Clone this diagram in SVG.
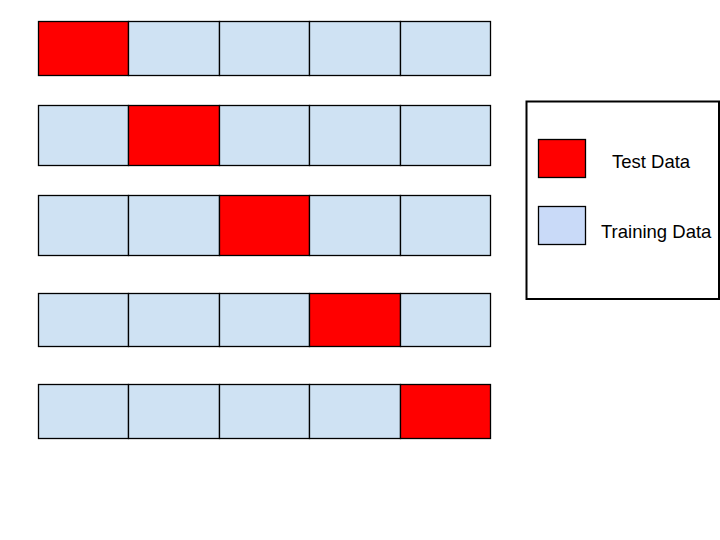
<svg xmlns="http://www.w3.org/2000/svg" width="720" height="540" viewBox="0 0 720 540">
<style>
.c{stroke:#000;stroke-width:1.3}
.tr{fill:#cfe2f3}
.te{fill:#ff0000}
.lbl{font-family:"Liberation Sans",Arial,sans-serif;font-size:18.5px;fill:#000}
</style>
<rect width="720" height="540" fill="#fff"/>
<g id="row1">
<rect class="c te" x="38.5" y="21.5" width="90" height="54"/>
<rect class="c tr" x="128.5" y="21.5" width="91" height="54"/>
<rect class="c tr" x="219.5" y="21.5" width="90" height="54"/>
<rect class="c tr" x="309.5" y="21.5" width="91" height="54"/>
<rect class="c tr" x="400.5" y="21.5" width="90" height="54"/>
</g>
<g id="row2">
<rect class="c tr" x="38.5" y="105.5" width="90" height="60"/>
<rect class="c te" x="128.5" y="105.5" width="91" height="60"/>
<rect class="c tr" x="219.5" y="105.5" width="90" height="60"/>
<rect class="c tr" x="309.5" y="105.5" width="91" height="60"/>
<rect class="c tr" x="400.5" y="105.5" width="90" height="60"/>
</g>
<g id="row3">
<rect class="c tr" x="38.5" y="195.5" width="90" height="60"/>
<rect class="c tr" x="128.5" y="195.5" width="91" height="60"/>
<rect class="c te" x="219.5" y="195.5" width="90" height="60"/>
<rect class="c tr" x="309.5" y="195.5" width="91" height="60"/>
<rect class="c tr" x="400.5" y="195.5" width="90" height="60"/>
</g>
<g id="row4">
<rect class="c tr" x="38.5" y="293.5" width="90" height="53"/>
<rect class="c tr" x="128.5" y="293.5" width="91" height="53"/>
<rect class="c tr" x="219.5" y="293.5" width="90" height="53"/>
<rect class="c te" x="309.5" y="293.5" width="91" height="53"/>
<rect class="c tr" x="400.5" y="293.5" width="90" height="53"/>
</g>
<g id="row5">
<rect class="c tr" x="38.5" y="384.5" width="90" height="54"/>
<rect class="c tr" x="128.5" y="384.5" width="91" height="54"/>
<rect class="c tr" x="219.5" y="384.5" width="90" height="54"/>
<rect class="c tr" x="309.5" y="384.5" width="91" height="54"/>
<rect class="c te" x="400.5" y="384.5" width="90" height="54"/>
</g>
<g id="legend">
<rect x="526.5" y="101.5" width="192.5" height="197.5" fill="#fff" stroke="#000" stroke-width="2"/>
<rect class="c te" x="538.5" y="139.5" width="47" height="38"/>
<rect x="538.5" y="206.5" width="47" height="38" fill="#c9daf8" stroke="#000" stroke-width="1.3"/>
<text class="lbl" x="612" y="167.5">Test Data</text>
<text class="lbl" x="601" y="237.5">Training Data</text>
</g>
</svg>
